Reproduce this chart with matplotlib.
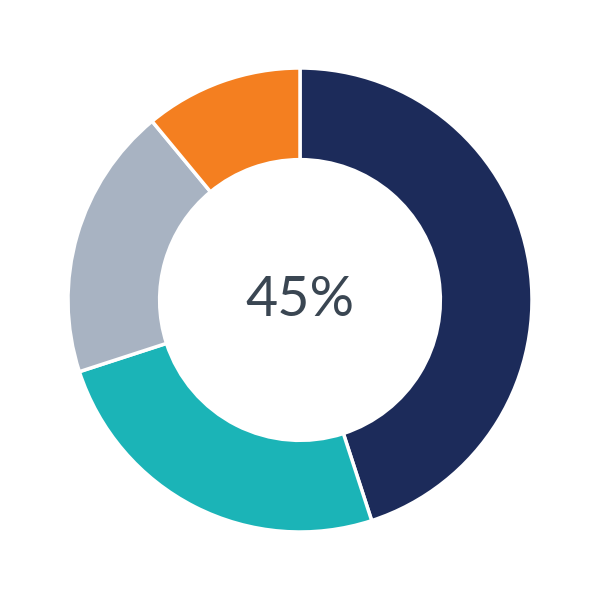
import matplotlib
matplotlib.use("Agg")
import matplotlib.pyplot as plt

# Segment shares, clockwise from 12 o'clock
labels = ["Navy", "Teal", "Gray", "Orange"]
shares = [45, 25, 19, 11]
colors = ["#1c2b5a", "#1bb4b7", "#a8b3c2", "#f47f20"]
center_text = "45%"

fig = plt.figure(figsize=(6, 6), dpi=100)
ax = fig.add_axes([0, 0, 1, 1])

ax.pie(shares, colors=colors, startangle=90, counterclock=False, radius=1.0,
       wedgeprops=dict(width=0.395, edgecolor="white", linewidth=2.5))

ax.text(0, 0, center_text, ha="center", va="center", fontsize=40,
        color="#3a4652", family="Lato")

lim = 300 / 232
ax.set_xlim(-lim, lim)
ax.set_ylim(-lim, lim)
ax.set_aspect("equal")
ax.axis("off")

fig.savefig("out.png", dpi=100, facecolor="white")
